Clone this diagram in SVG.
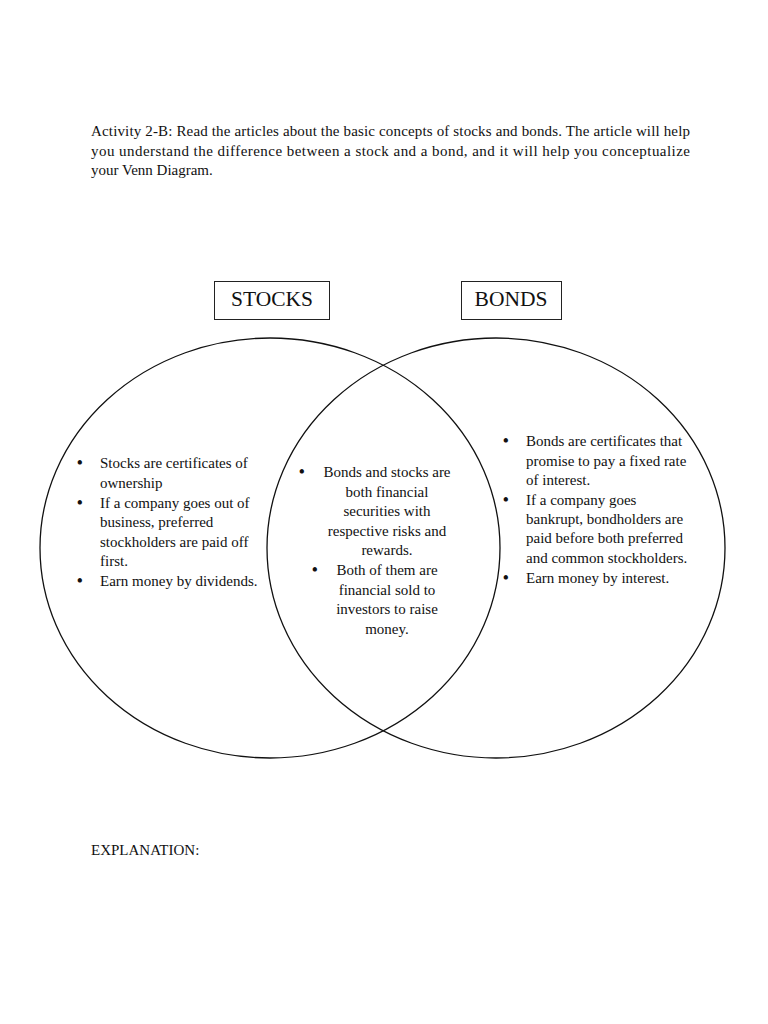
<svg xmlns="http://www.w3.org/2000/svg" width="768" height="1024" viewBox="0 0 768 1024">
<style>
text{font-family:"Liberation Serif","Times New Roman",serif;fill:#111;}
.t{font-size:15px;}
.b{font-size:16px;font-weight:bold;}
.h{font-size:21.5px;}
.c{text-anchor:middle;}
.box{fill:none;stroke:#222;stroke-width:1;}
.ell{fill:none;stroke:#111;stroke-width:1.3;}
</style>
<rect width="768" height="1024" fill="#fff"/>
<g id="intro">
<text class="t" x="91" y="136" textLength="599" lengthAdjust="spacing">Activity 2-B: Read the articles about the basic concepts of stocks and bonds. The article will help</text>
<text class="t" x="91" y="156" textLength="599" lengthAdjust="spacing">you understand the difference between a stock and a bond, and it will help you conceptualize</text>
<text class="t" x="91" y="175">your Venn Diagram.</text>
</g>
<g id="stocks-label">
<rect class="box" x="214.5" y="281.5" width="115" height="38"/>
<text class="h c" x="272" y="306">STOCKS</text>
</g>
<g id="bonds-label">
<rect class="box" x="461.5" y="281.5" width="100" height="38"/>
<text class="h c" x="511" y="306">BONDS</text>
</g>
<g id="stocks-circle">
<ellipse class="ell" cx="270" cy="548" rx="230" ry="210"/>
<text class="b" x="77" y="468">•</text>
<text class="t" x="100" y="468">Stocks are certificates of</text>
<text class="t" x="100" y="488">ownership</text>
<text class="b" x="77" y="508">•</text>
<text class="t" x="100" y="508">If a company goes out of</text>
<text class="t" x="100" y="527">business, preferred</text>
<text class="t" x="100" y="547">stockholders are paid off</text>
<text class="t" x="100" y="566">first.</text>
<text class="b" x="77" y="586">•</text>
<text class="t" x="100" y="586">Earn money by dividends.</text>
</g>
<g id="bonds-circle">
<ellipse class="ell" cx="496" cy="548" rx="229" ry="210"/>
<text class="b" x="503" y="446">•</text>
<text class="t" x="526" y="446">Bonds are certificates that</text>
<text class="t" x="526" y="466">promise to pay a fixed rate</text>
<text class="t" x="526" y="485">of interest.</text>
<text class="b" x="503" y="505">•</text>
<text class="t" x="526" y="505">If a company goes</text>
<text class="t" x="526" y="524">bankrupt, bondholders are</text>
<text class="t" x="526" y="543">paid before both preferred</text>
<text class="t" x="526" y="563">and common stockholders.</text>
<text class="b" x="503" y="583">•</text>
<text class="t" x="526" y="583">Earn money by interest.</text>
</g>
<g id="overlap">
<text class="b" x="299" y="477">•</text>
<text class="t c" x="387" y="477">Bonds and stocks are</text>
<text class="t c" x="387" y="497">both financial</text>
<text class="t c" x="387" y="516">securities with</text>
<text class="t c" x="387" y="536">respective risks and</text>
<text class="t c" x="387" y="555">rewards.</text>
<text class="b" x="312" y="575">•</text>
<text class="t c" x="387" y="575">Both of them are</text>
<text class="t c" x="387" y="595">financial sold to</text>
<text class="t c" x="387" y="614">investors to raise</text>
<text class="t c" x="387" y="634">money.</text>
</g>
<g id="explanation">
<text class="t" x="91" y="855">EXPLANATION:</text>
</g>
</svg>
